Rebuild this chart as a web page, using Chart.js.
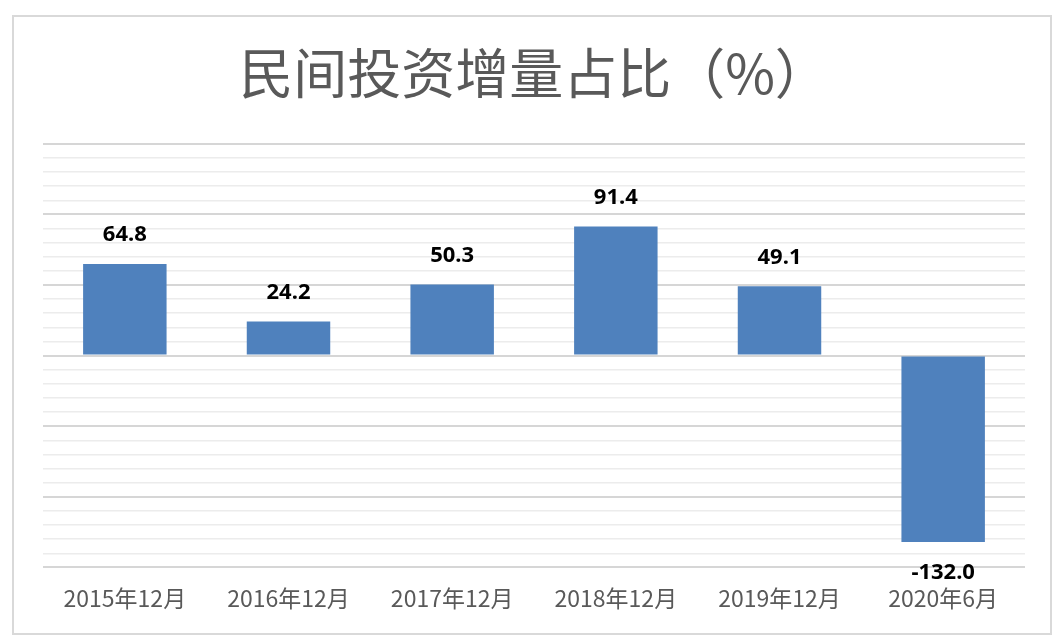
<!DOCTYPE html>
<html>
<head>
<meta charset="utf-8">
<script src="https://cdn.jsdelivr.net/npm/chart.js@4/dist/chart.umd.min.js"></script>
<style>
    html, body { margin: 0; padding: 0; background: #fff; }
    #box {
        position: absolute; left: 12px; top: 15px;
        width: 1036px; height: 616px;
        border: 2px solid #d9d9d9;
    }
</style>
</head>
<body>
<div id="box"><canvas id="shareChart" width="1036" height="616"></canvas></div>
<script>
// 民间投资增量占比
const periods = ['2015年12月', '2016年12月', '2017年12月', '2018年12月', '2019年12月', '2020年6月'];
const shares = [64.8, 24.2, 50.3, 91.4, 49.1, -132.0];
const axisMin = -150;
const axisMax = 150;

// value labels above / below each bar
const valueLabels = {
    id: 'valueLabels',
    afterDatasetsDraw: function(chart) {
        const ctx = chart.ctx;
        const meta = chart.getDatasetMeta(0);
        ctx.save();
        ctx.font = 'bold 22px "Noto Sans", sans-serif';
        ctx.fillStyle = '#000';
        ctx.textAlign = 'center';
        ctx.textBaseline = 'middle';
        meta.data.forEach(function(bar, i) {
            const v = shares[i];
            const y = v >= 0 ? bar.y - 29 : bar.y + 31;
            ctx.fillText(v.toFixed(1), bar.x, y);
        });
        ctx.restore();
    }
};

new Chart(document.getElementById('shareChart'), {
    type: 'bar',
    data: {
        labels: periods,
        datasets: [{
            data: shares,
            backgroundColor: '#4f81bd',
            borderWidth: 0,
            categoryPercentage: 1,
            barPercentage: 0.51
        }]
    },
    options: {
        responsive: false,
        animation: false,
        layout: { padding: { left: 29, right: 25, top: 0, bottom: 4 } },
        plugins: {
            legend: { display: false },
            tooltip: { enabled: false },
            title: {
                display: true,
                text: '民间投资增量占比（%）',
                color: '#595959',
                font: { family: '"Noto Sans CJK SC", sans-serif', size: 54, weight: 'normal', lineHeight: 1.2 },
                padding: { top: 24, bottom: 38 }
            }
        },
        scales: {
            x: {
                grid: { display: false, drawTicks: false },
                border: { display: false },
                ticks: {
                    color: '#595959',
                    padding: 17,
                    font: { family: '"Noto Sans CJK SC", sans-serif', size: 23 }
                }
            },
            y: {
                min: axisMin,
                max: axisMax,
                border: { display: false },
                ticks: { display: false, stepSize: 10 },
                grid: {
                    drawTicks: false,
                    color: function(c) {
                        return c.tick && c.tick.value % 50 === 0 ? '#d6d6d6' : '#ececec';
                    },
                    lineWidth: function(c) {
                        return c.tick && c.tick.value % 50 === 0 ? 2 : 1.5;
                    }
                }
            }
        }
    },
    plugins: [valueLabels]
});
</script>
</body>
</html>
